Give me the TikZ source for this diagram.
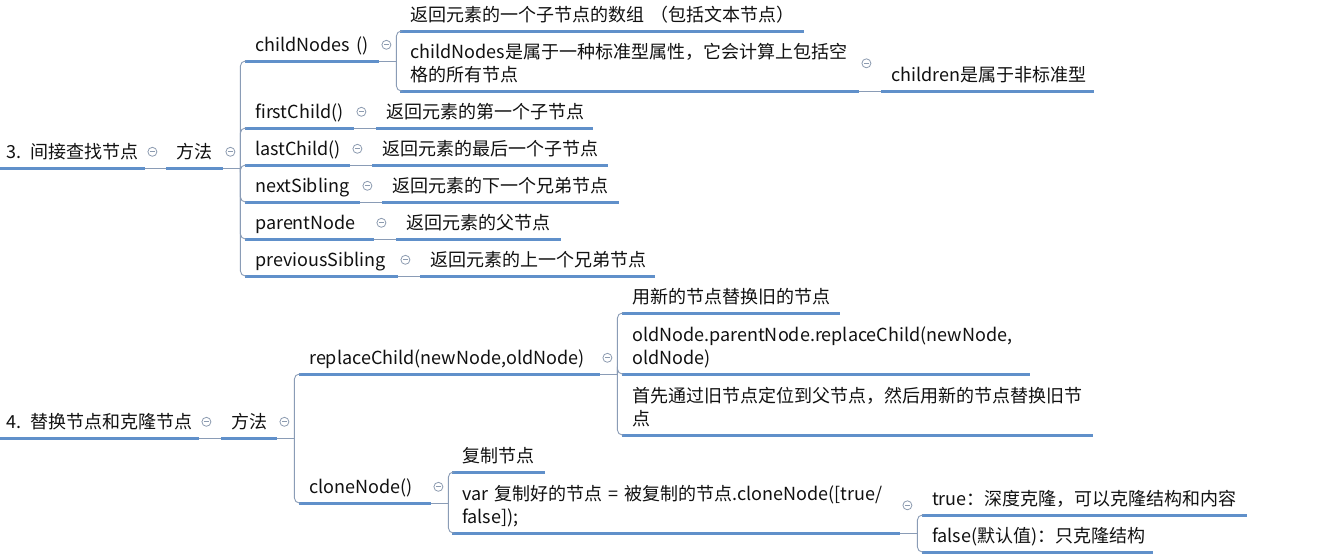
\documentclass[tikz,border=0pt]{standalone}
\usepackage{fontspec}
\setmainfont{Noto Sans CJK SC}
\usetikzlibrary{positioning}

\definecolor{lineblue}{HTML}{6090CA}
\definecolor{linkgray}{HTML}{8A9CB6}
\definecolor{togglegray}{HTML}{8C9BB0}
\definecolor{textblack}{HTML}{111111}

\begin{document}
\begin{tikzpicture}[
    x=1pt, y=-1pt,
    topic/.style={anchor=south west, align=left, inner xsep=10pt, inner ysep=2pt,
        font=\fontsize{18}{23}\selectfont, text=textblack,
        execute at begin node=\strut, execute at end node=\strut},
    uline/.style={draw=lineblue, line width=3pt},
    link/.style={draw=linkgray, line width=0.9pt, rounded corners=5pt},
    toggle/.style={circle, draw=togglegray, line width=0.8pt, minimum size=9pt, inner sep=0pt,
        path picture={\draw[togglegray, line width=0.8pt]
            ([xshift=-2.6pt]path picture bounding box.center) -- ([xshift=2.6pt]path picture bounding box.center);}}
]
    \useasboundingbox[fill=white] (0,0) rectangle (1322,558);

    % 3. indirect lookup
    \node[topic, inner xsep=6pt, text width=133pt] (r3) at (0,168) {3. 间接查找节点};
    \node[topic, text width=37pt] (fa1) at (166,168) {方法};
    \node[topic, text width=114pt] (cn) at (245,61) {childNodes ()};
    \node[topic, text width=384pt] (cn1) at (400,31) {返回元素的一个子节点的数组 （包括文本节点）};
    \node[topic, text width=439pt] (cn2) at (400,91) {childNodes是属于一种标准型属性，它会计算上包括空\\格的所有节点};
    \node[topic, text width=193pt] (cn2a) at (881,91) {children是属于非标准型};
    \node[topic, text width=89pt] (fc) at (245,128) {firstChild()};
    \node[topic, text width=197pt] (fc1) at (376,128) {返回元素的第一个子节点};
    \node[topic, text width=85pt] (lc) at (245,165) {lastChild()};
    \node[topic, text width=216pt] (lc1) at (372,165) {返回元素的最后一个子节点};
    \node[topic, text width=95pt] (ns) at (245,202) {nextSibling};
    \node[topic, text width=217pt] (ns1) at (382,202) {返回元素的下一个兄弟节点};
    \node[topic, text width=109pt] (pn) at (245,239) {parentNode};
    \node[topic, text width=145pt] (pn1) at (396,239) {返回元素的父节点};
    \node[topic, text width=133pt] (ps) at (245,276) {previousSibling};
    \node[topic, text width=215pt] (ps1) at (420,276) {返回元素的上一个兄弟节点};

    % 4. replace and clone
    \node[topic, inner xsep=6pt, text width=187pt] (r4) at (0,438) {4. 替换节点和克隆节点};
    \node[topic, text width=36pt] (fa2) at (221,438) {方法};
    \node[topic, text width=281pt] (rc) at (299,374) {replaceChild(newNode,oldNode)};
    \node[topic, text width=198pt] (rc1) at (622,313) {用新的节点替换旧的节点};
    \node[topic, text width=388pt] (rc2) at (622,374) {oldNode.parentNode.replaceChild(newNode,\\oldNode)};
    \node[topic, text width=451pt] (rc3) at (622,435) {首先通过旧节点定位到父节点，然后用新的节点替换旧节\\点};
    \node[topic, text width=112pt] (cl) at (299,503) {cloneNode()};
    \node[topic, text width=73pt] (cl1) at (452,472) {复制节点};
    \node[topic, text width=428pt] (cl2) at (452,533) {var 复制好的节点 = 被复制的节点.cloneNode([true/\\false]);};
    \node[topic, text width=305pt] (cl2a) at (922,515) {true：深度克隆，可以克隆结构和内容};
    \node[topic, text width=211pt] (cl2b) at (922,552) {false(默认值)：只克隆结构};

    % underlines
    \foreach \n in {r3,fa1,cn,cn1,cn2,cn2a,fc,fc1,lc,lc1,ns,ns1,pn,pn1,ps,ps1,
                    r4,fa2,rc,rc1,rc2,rc3,cl,cl1,cl2,cl2a,cl2b}
        \draw[uline] (\n.south west) -- (\n.south east);

    % connectors
    \draw[link] (r3.south east) -- (fa1.south west);
    \draw[link] (fa1.south east) -- ++(17,0) coordinate (j1);
    \foreach \c in {cn,fc,lc,ns,pn,ps}
        \draw[link] (j1) |- (\c.south west);
    \draw[link] (cn.south east) -- ++(17,0) coordinate (j2);
    \foreach \c in {cn1,cn2}
        \draw[link] (j2) |- (\c.south west);
    \draw[link] (cn2.south east) -- (cn2a.south west);
    \draw[link] (fc.south east) -- (fc1.south west);
    \draw[link] (lc.south east) -- (lc1.south west);
    \draw[link] (ns.south east) -- (ns1.south west);
    \draw[link] (pn.south east) -- (pn1.south west);
    \draw[link] (ps.south east) -- (ps1.south west);

    \draw[link] (r4.south east) -- (fa2.south west);
    \draw[link] (fa2.south east) -- ++(17,0) coordinate (j3);
    \foreach \c in {rc,cl}
        \draw[link] (j3) |- (\c.south west);
    \draw[link] (rc.south east) -- ++(17,0) coordinate (j4);
    \foreach \c in {rc1,rc2,rc3}
        \draw[link] (j4) |- (\c.south west);
    \draw[link] (cl.south east) -- ++(17,0) coordinate (j5);
    \foreach \c in {cl1,cl2}
        \draw[link] (j5) |- (\c.south west);
    \draw[link] (cl2.south east) -- ++(17,0) coordinate (j6);
    \foreach \c in {cl2a,cl2b}
        \draw[link] (j6) |- (\c.south west);

    % collapse toggles
    \foreach \n in {r3,fa1,cn,cn2,fc,lc,ns,pn,ps,r4,fa2,rc,cl,cl2}
        \node[toggle] (t-\n) at ([xshift=7pt,yshift=2.5pt]\n.east) {};
\end{tikzpicture}
\end{document}
